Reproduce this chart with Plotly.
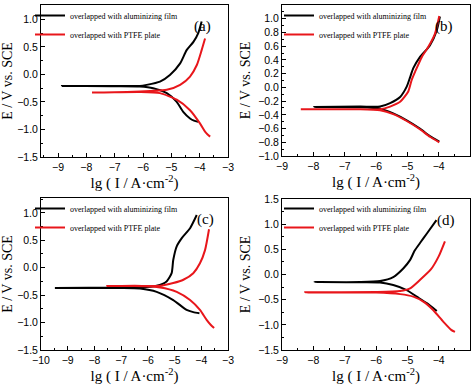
import plotly.graph_objects as go

# ---------------- data (lg I, E): cathodic end -> Ecorr tip -> anodic end ----------------
# (a)
a_black_x = [-4.05, -4.20, -4.34, -4.58, -4.81, -5.16, -5.64, -6.11, -7.00, -8.86,
             -7.00, -6.11, -5.87, -5.40, -5.05, -4.69, -4.46, -4.22, -4.05, -3.93]
a_black_y = [-0.86, -0.84, -0.80, -0.68, -0.50, -0.34, -0.25, -0.22, -0.215, -0.21,
             -0.21, -0.21, -0.19, -0.13, -0.01, 0.20, 0.44, 0.59, 0.75, 0.96]
a_red_x = [-3.63, -3.72, -3.81, -3.99, -4.34, -4.81, -5.40, -6.11, -7.00, -7.80,
           -7.00, -6.11, -5.75, -5.16, -4.69, -4.34, -4.10, -3.93, -3.81]
a_red_y = [-1.13, -1.09, -1.04, -0.89, -0.65, -0.46, -0.34, -0.32, -0.325, -0.33,
           -0.325, -0.31, -0.30, -0.28, -0.19, -0.04, 0.17, 0.44, 0.65]
# (b)
b_black_x = [-3.98, -4.28, -4.60, -5.02, -5.45, -5.87, -6.50, -7.97,
             -6.50, -5.87, -5.55, -5.23, -5.02, -4.91, -4.81, -4.60, -4.28, -4.06, -3.96]
b_black_y = [-0.79, -0.71, -0.60, -0.48, -0.38, -0.31, -0.29, -0.285,
             -0.28, -0.28, -0.23, -0.14, 0.01, 0.15, 0.28, 0.44, 0.61, 0.83, 1.03]
b_red_x = [-3.98, -4.28, -4.60, -5.02, -5.45, -5.87, -6.50, -8.40,
           -6.50, -5.87, -5.55, -5.23, -4.97, -4.86, -4.75, -4.54, -4.33, -4.12, -3.98]
b_red_y = [-0.80, -0.72, -0.61, -0.49, -0.39, -0.335, -0.32, -0.32,
           -0.32, -0.32, -0.28, -0.21, -0.06, 0.11, 0.23, 0.44, 0.59, 0.78, 1.04]
# (c)
c_black_x = [-4.07, -4.30, -4.55, -5.05, -5.67, -6.29, -7.00, -9.48,
             -7.00, -6.29, -5.67, -5.30, -5.11, -5.05, -4.92, -4.73, -4.42, -4.17]
c_black_y = [-0.83, -0.81, -0.77, -0.59, -0.44, -0.38, -0.37, -0.37,
             -0.365, -0.36, -0.33, -0.25, -0.10, 0.14, 0.39, 0.54, 0.72, 0.96]
c_red_x = [-3.52, -3.65, -3.80, -4.05, -4.42, -4.92, -5.54, -6.50, -7.52,
           -6.50, -5.54, -5.05, -4.67, -4.30, -4.05, -3.86, -3.71]
c_red_y = [-1.10, -1.04, -0.95, -0.77, -0.59, -0.44, -0.36, -0.335, -0.335,
           -0.33, -0.33, -0.28, -0.22, -0.10, 0.08, 0.32, 0.70]
# (d)
d_black_x = [-4.06, -4.38, -4.70, -5.02, -5.45, -5.87, -6.50, -7.96,
             -6.50, -5.87, -5.45, -5.13, -4.91, -4.77, -4.59, -4.37, -4.07]
d_black_y = [-0.725, -0.57, -0.44, -0.31, -0.21, -0.16, -0.155, -0.15,
             -0.15, -0.13, -0.05, 0.12, 0.29, 0.47, 0.63, 0.82, 1.08]
d_red_x = [-3.48, -3.60, -3.85, -4.17, -4.49, -4.81, -5.23, -6.00, -8.26,
           -6.00, -5.23, -4.91, -4.60, -4.25, -4.00, -3.80]
d_red_y = [-1.14, -1.10, -0.94, -0.71, -0.54, -0.44, -0.39, -0.36, -0.355,
           -0.35, -0.33, -0.275, -0.11, 0.10, 0.36, 0.66]

series_names = ["overlapped with aluminizing film", "overlapped with PTFE plate"]
panel_labels = ["(a)", "(b)", "(c)", "(d)"]
x_title = "lg ( I / A·cm<sup>-2</sup>)"
y_title = "E / V vs. SCE"

BLACK = "#000000"
RED = "#e8161b"
SERIF = "Liberation Serif"
SANS = "Liberation Sans"

panels = [
    (a_black_x, a_black_y, a_red_x, a_red_y),
    (b_black_x, b_black_y, b_red_x, b_red_y),
    (c_black_x, c_black_y, c_red_x, c_red_y),
    (d_black_x, d_black_y, d_red_x, d_red_y),
]

fig = go.Figure()
W, H = 474, 386
for i, (bx, by, rx, ry) in enumerate(panels):
    sfx = "" if i == 0 else str(i + 1)
    leg = "legend" + sfx
    for x, y, name, col in ((bx, by, series_names[0], BLACK), (rx, ry, series_names[1], RED)):
        fig.add_trace(go.Scatter(
            x=x, y=y, mode="lines", name=name,
            line=dict(color=col, width=2, shape="spline", smoothing=0.6),
            xaxis="x" + sfx, yaxis="y" + sfx, legend=leg,
        ))

# pixel boxes: left, right, top, bottom
boxes = [(41, 228, 5, 157), (282, 470, 5, 156), (41, 228, 198, 350), (282, 470, 199, 350)]
xranges = [[-9.6, -3], [-9, -3], [-10, -3], [-9, -3]]
yranges = [[-1.5, 1.26], [-1.0, 1.2], [-1.5, 1.27], [-1.5, 1.5]]
ydticks = [0.5, 0.2, 0.5, 0.5]
legend_pos = [(30, 1), (279, 1), (30, 194), (279, 194)]
label_pos = [(0.92, 0.93), (0.92, 0.93), (0.935, 0.93), (0.93, 0.93)]

layout = dict(
    width=W, height=H, margin=dict(l=0, r=0, t=0, b=0, autoexpand=False),
    paper_bgcolor="white", plot_bgcolor="white", showlegend=True,
)
annotations = []
for i, (l, r, t, b) in enumerate(boxes):
    sfx = "" if i == 0 else str(i + 1)
    layout["xaxis" + sfx] = dict(
        domain=[l / W, r / W], anchor="y" + sfx, range=xranges[i], dtick=1, automargin=False,
        showgrid=False, zeroline=False, showline=True, linecolor="black", linewidth=1,
        mirror=True, ticks="inside", ticklen=4, tickcolor="black",
        minor=dict(ticks="inside", ticklen=2, dtick=0.5, tickcolor="black"),
        tickfont=dict(family=SANS, size=10.5, color="black"),
        title=dict(text=x_title, font=dict(family=SERIF, size=15, color="black"), standoff=4),
    )
    layout["yaxis" + sfx] = dict(
        domain=[1 - b / H, 1 - t / H], anchor="x" + sfx, range=yranges[i], dtick=ydticks[i],
        tickformat=".1f", automargin=False,
        showgrid=False, zeroline=False, showline=True, linecolor="black", linewidth=1,
        mirror=True, ticks="inside", ticklen=4, tickcolor="black",
        minor=dict(ticks="inside", ticklen=2, dtick=ydticks[i] / 2, tickcolor="black"),
        tickfont=dict(family=SANS, size=10.5, color="black"),
        title=dict(text=y_title, font=dict(family=SERIF, size=14, color="black"), standoff=4),
    )
    lx, ly = legend_pos[i]
    layout["legend" + sfx] = dict(
        x=lx / W, y=1 - ly / H, xref="paper", yref="paper", xanchor="left", yanchor="top",
        bgcolor="rgba(0,0,0,0)", font=dict(family=SERIF, size=8, color="black"),
    )
    px, py = label_pos[i]
    annotations.append(dict(
        text=panel_labels[i], xref="x" + sfx + " domain", yref="y" + sfx + " domain",
        x=px, y=py, showarrow=False, font=dict(family=SERIF, size=15, color="black"),
    ))
layout["annotations"] = annotations
fig.update_layout(**layout)
fig.write_html("out.html", config={"displayModeBar": False},
               post_script="document.body.style.margin='0';")
